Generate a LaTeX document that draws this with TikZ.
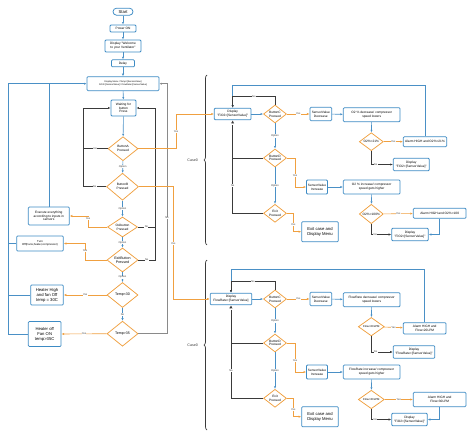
\documentclass[tikz,border=0pt]{standalone}
\usepackage{fontspec}
\setmainfont{Liberation Sans}
\usetikzlibrary{shapes.geometric,arrows.meta,decorations.pathreplacing}
\definecolor{bblue}{HTML}{3D8BC4}
\definecolor{lblue}{HTML}{4A90C6}
\definecolor{dor}{HTML}{F0A040}
\definecolor{dgray}{HTML}{3A3A3A}
\definecolor{mgray}{HTML}{8A8A8A}
\tikzset{
 bx/.style={draw=bblue, line width=0.75pt, rounded corners=1pt, fill=white, align=center, inner sep=0pt, font=\fontsize{3.2}{3.8}\selectfont},
 dia/.style={diamond, draw=dor, line width=0.75pt, fill=white, align=center, inner sep=0pt, font=\fontsize{3.2}{3.8}\selectfont},
 wh/.style 2 args={minimum width=#1, minimum height=#2},
 tip/.style={-{Latex[length=2.6pt,width=2.2pt]}},
 fl/.style={draw=lblue, line width=0.6pt, tip},
 fln/.style={draw=lblue, line width=0.6pt},
 yl/.style={draw=dor, line width=0.6pt, tip},
 nl/.style={draw=dgray, line width=0.6pt, tip},
 nln/.style={draw=dgray, line width=0.6pt},
 gl/.style={draw=mgray, line width=0.7pt, tip},
 lab/.style={font=\fontsize{2.6}{3}\selectfont, text=dgray, fill=white, inner sep=0.3pt},
 big/.style={font=\fontsize{4.2}{5}\selectfont},
 brc/.style={draw=dgray, line width=0.7pt, decorate, decoration={brace, amplitude=3pt}}
}
\begin{document}
\begin{tikzpicture}[x=1pt,y=-1pt]
\useasboundingbox (0,0) rectangle (474,439);
% ---------- main flow ----------
\node[bx, wh={20}{7}, rounded corners=3.5pt, big] (start) at (123,11.7) {Start};
\node[bx, wh={26}{7}] (pon) at (123,28.5) {Power ON};
\node[bx, wh={36}{12}] (welc) at (123,46) {Display "Welcome\\to your Ventilator"};
\node[bx, wh={23}{7}] (delay) at (123,63.3) {Delay};
\node[bx, wh={72}{14}, font=\fontsize{2.3}{2.9}\selectfont] (menu) at (123,83.7) {Display Menu / Temp=[SensorValue]\\FiO2=[SensorValue] / FlowRate=[SensorValue]};
\node[bx, wh={25}{16}] (wait) at (123.5,108) {Waiting for\\button\\Press};
\node[dia, wh={30}{24}] (da) at (123,148.7) {ButtonA\\Pressed};
\node[dia, wh={32}{27}] (db) at (122.5,186.7) {ButtonB\\Pressed};
\node[dia, wh={30}{20}] (dox) at (122.5,227) {Oxibutton\\Pressed};
\node[dia, wh={31}{24}, font=\fontsize{3.6}{4.2}\selectfont] (dex) at (122.5,260) {ExitButton\\Pressed};
\node[dia, wh={31}{25}, font=\fontsize{3.6}{4.2}\selectfont] (dt30) at (122.5,295) {Temp<30};
\node[dia, wh={31}{25}, font=\fontsize{3.6}{4.2}\selectfont] (dt35) at (122.5,333.7) {Temp>35};
\node[bx, wh={41}{18}] (exe) at (48.8,216) {Execute everything\\according to inputs in\\sensors};
\node[bx, wh={46.6}{15}, font=\fontsize{2.8}{3.6}\selectfont] (toff) at (40,243.5) {Turn\\Off(Fans,heater,compressor)};
\node[bx, wh={32.6}{20}, big] (hh) at (47,295) {Heater High\\and fan Off\\temp = 30C};
\node[bx, wh={32.7}{25}, big] (hoff) at (44.7,334) {Heater off\\Fan ON\\temp>35C};

\draw[fl] (start) -- (pon);
\draw[fl] (pon) -- (welc);
\draw[fl] (welc) -- (delay);
\draw[fl] (delay) -- (menu);
\draw[fl] (menu) -- (wait);
\draw[fl] (wait) -- (da);
\draw[fl] (da) -- node[lab]{Option} (db);
\draw[fl] (db) -- node[lab]{Option} (dox);
\draw[fl] (dox) -- node[lab]{Option} (dex);
\draw[fl] (dex) -- node[lab]{Option} (dt30);
\draw[fl] (dt30) -- node[lab]{No} (dt35);

\draw[nl] (da.west) -- node[lab]{No} (83,148.7) |- (wait.west);
\draw[nln] (db.west) -- node[lab]{No} (83,186.7) -- (83,148.7);
\draw[nl] (dex.east) -- node[lab]{No} (155,260) |- (wait.east);
\draw[nln] (dox.east) -- node[lab]{No} (155,227);
\draw[gl] (dt35.east) -- (167,333.7) |- (menu.east);
\node[lab] at (167,218) {No};

\draw[yl] (dox.west) -- (88,227) |- (exe.east);
\node[lab] at (88,218.3) {Yes};
\draw[yl] (dex.west) -- (85,260) |- (toff.east);
\node[lab] at (85,251) {Yes};
\draw[yl] (dt30.west) -- node[lab]{Yes} (hh.east);
\draw[yl] (dt35.west) -- node[lab]{Yes} (hoff.east);

\draw[fl] (hoff.west) -- (8,334) -- (8,83.7) -- (menu.west);
\draw[fln] (hh.west) -- (8,295);
\draw[fln] (toff.west) -- (8,243.5);
\draw[fln] (exe.north) -- (48.8,83.7);

% ---------- case FiO2 ----------
\draw[brc] (207,245) -- (207,75);
\node[font=\fontsize{3.6}{4}\selectfont, text=dgray] (c1) at (192.7,160.7) {Case0};
\node[bx, wh={36.7}{11.7}] (dfio) at (232.7,114) {Display\\"FiO2=[SensorValue]"};
\node[dia, wh={23}{18}] (dc1) at (275,114) {ButtonC\\Pressed};
\node[bx, wh={21.7}{13.3}] (sd1) at (320.8,114) {SensorValue\\Decrease};
\node[bx, wh={56.7}{14}] (o2d) at (371.7,114.7) {O2 \% decrease/ compressor\\speed lowers};
\node[dia, wh={23}{18}] (dd1) at (275,158) {ButtonD\\Pressed};
\node[bx, wh={21}{14}] (si1) at (317,187) {SensorValue\\Increase};
\node[bx, wh={56.7}{14}] (o2i) at (371.7,187) {O2 \% increase/ compressor\\speed gets higher};
\node[dia, wh={23}{18}] (de1) at (275,213.3) {Exit\\Pressed};
\node[bx, wh={36.7}{20}, big] (ex1) at (320,231.7) {Exit case and\\Display Menu};
\node[dia, wh={24}{18}] (q1) at (371.3,141.7) {O2\%<21\%};
\node[bx, wh={43.3}{10}] (al1) at (425,141.7) {Alarm HIGH and O2\%<21\%};
\node[bx, wh={36}{12.4}] (dp1) at (411.3,164.5) {Display\\"FiO2=[SensorValue]"};
\node[dia, wh={24}{18}] (q2) at (371.3,214) {O2\%>100\%};
\node[bx, wh={52.7}{10}] (al2) at (439.7,213.3) {Alarm HIGH and O2\%>100};
\node[bx, wh={36.6}{12.4}] (dp2) at (410,234.5) {Display\\"FiO2=[SensorValue]"};

\draw[fl] (dfio) -- (dc1);
\draw[yl] (dc1) -- node[lab]{Yes} (sd1);
\draw[fl] (sd1) -- (o2d);
\draw[fl] (o2d) -- (q1);
\draw[yl] (q1) -- node[lab]{Yes} (al1);
\draw[nl] (q1.south) |- node[lab, pos=0.6]{No} (dp1.west);
\draw[fl] (al1.north) -- (425,85) -- (232.7,85) -- (dfio.north);
\draw[nl] (dc1.north) -- (275,96.7) -- node[lab]{No} (232.7,96.7) -- (dfio.north);
\draw[fl] (dc1) -- node[lab]{Option} (dd1);
\draw[nl] (dd1.west) -- (232.7,158) -- node[lab, pos=0.9]{No} (dfio.south);
\draw[yl] (dd1.east) -- (295,158) |- node[lab, pos=0.3]{Yes} (si1.west);
\draw[fl] (si1) -- (o2i);
\draw[fl] (o2i) -- (q2);
\draw[yl] (q2) -- node[lab]{Yes} (al2);
\draw[fl] (al2.south) |- (dp2.east);
\draw[nl] (q2.south) |- node[lab, pos=0.6]{No} (dp2.west);
\draw[fl] (dd1) -- node[lab]{Option} (de1);
\draw[nln] (de1.west) -- (232.7,213.3) -- node[lab]{No} (232.7,158);
\draw[yl] (de1.east) -- (293.3,213.3) |- node[lab, pos=0.3]{Yes} (ex1.west);

% ---------- case FlowRate ----------
\draw[brc] (207,430) -- (207,260);
\node[font=\fontsize{3.6}{4}\selectfont, text=dgray] (c2) at (192.7,345.7) {Case0};
\node[bx, wh={41.7}{11.7}] (dflow) at (231,299) {Display\\FlowRate=[SensorValue]};
\node[dia, wh={23}{18}] (dc2) at (275,299) {ButtonC\\Pressed};
\node[bx, wh={21.7}{13.3}] (sd2) at (320.8,299) {SensorValue\\Decrease};
\node[bx, wh={56.7}{14}] (frd) at (371.7,299.7) {FlowRate decrease/ compressor\\speed lowers};
\node[dia, wh={23}{18}] (dd2) at (275,343) {ButtonD\\Pressed};
\node[bx, wh={21}{14}] (si2) at (317,372) {SensorValue\\Increase};
\node[bx, wh={56.7}{14}] (fri) at (371.7,372) {FlowRate increase/ compressor\\speed gets higher};
\node[dia, wh={23}{18}] (de2) at (275,398.3) {Exit\\Pressed};
\node[bx, wh={36.7}{20}, big] (ex2) at (320,416.7) {Exit case and\\Display Menu};
\node[dia, wh={26}{18}, font=\fontsize{2.8}{3.4}\selectfont] (q3) at (371.3,326.7) {Flow<20LPM};
\node[bx, wh={42.7}{11.3}] (al3) at (424.7,328.3) {Alarm HIGH and\\Flow<20LPM};
\node[bx, wh={41.7}{12.6}] (dp3) at (414,352) {Display\\"FlowRate=[SensorValue]"};
\node[dia, wh={26}{18}, font=\fontsize{2.8}{3.4}\selectfont] (q4) at (371.3,399.5) {Flow>30LPM};
\node[bx, wh={52.7}{14.3}] (al4) at (439.7,399.5) {Alarm HIGH and\\Flow>30LPM};
\node[bx, wh={35.6}{12.4}] (dp4) at (409.5,419.5) {Display\\"FiO2=[SensorValue]"};

\draw[fl] (dflow) -- (dc2);
\draw[yl] (dc2) -- node[lab]{Yes} (sd2);
\draw[fl] (sd2) -- (frd);
\draw[fl] (frd) -- (q3);
\draw[yl] (q3) -- node[lab]{Yes} (al3);
\draw[nl] (q3.south) |- node[lab, pos=0.6]{No} (dp3.west);
\draw[fl] (al3.north) -- (424.7,269) -- (231,269) -- (dflow.north);
\draw[nl] (dc2.north) -- (275,281.7) -- node[lab]{No} (231,281.7) -- (dflow.north);
\draw[fl] (dc2) -- node[lab]{Option} (dd2);
\draw[nl] (dd2.west) -- (231,343) -- node[lab, pos=0.9]{No} (dflow.south);
\draw[yl] (dd2.east) -- (295,343) |- node[lab, pos=0.3]{Yes} (si2.west);
\draw[fl] (si2) -- (fri);
\draw[fl] (fri) -- (q4);
\draw[yl] (q4) -- node[lab]{Yes} (al4);
\draw[fl] (al4.south) |- (dp4.east);
\draw[nl] (q4.south) |- node[lab, pos=0.6]{No} (dp4.west);
\draw[fl] (dd2) -- node[lab]{Option} (de2);
\draw[nln] (de2.west) -- (231,398.3) -- node[lab]{No} (231,343);
\draw[yl] (de2.east) -- (293.3,398.3) |- node[lab, pos=0.3]{Yes} (ex2.west);

% ---------- links main -> cases ----------
\draw[yl] (da.east) -- (176,148.7) |- (dfio.west);
\node[lab] at (176,131.7) {Yes};
\draw[yl] (db.east) -- (173.3,186.7) |- (dflow.west);
\node[lab] at (173.3,243.3) {Yes};
\end{tikzpicture}
\end{document}
